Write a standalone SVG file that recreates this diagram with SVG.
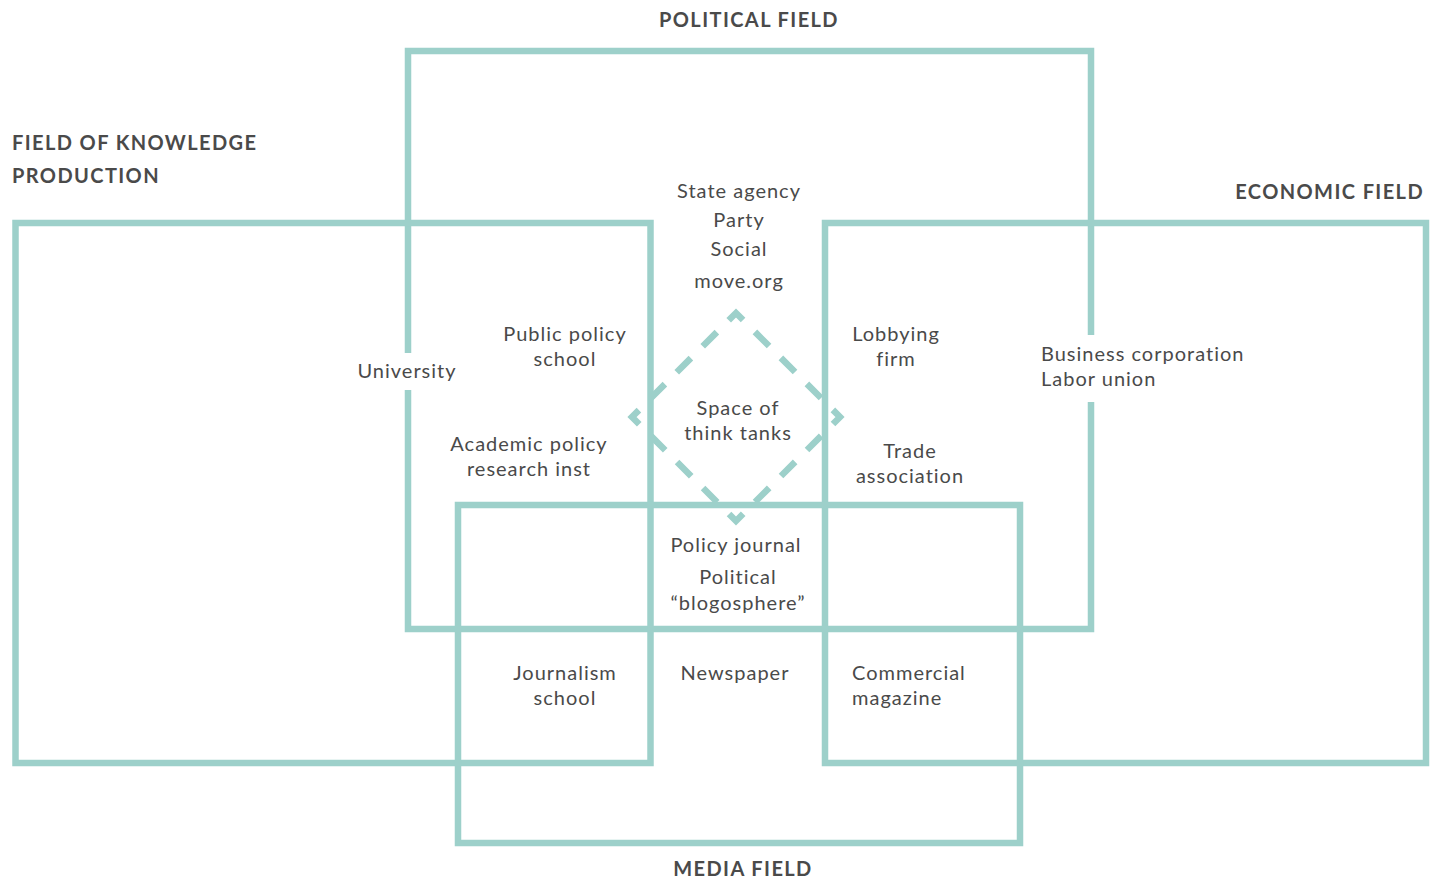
<svg xmlns="http://www.w3.org/2000/svg" width="1440" height="893" viewBox="0 0 1440 893">
<style>
.f{fill:none;stroke:#9dd0ca;stroke-width:6.5;stroke-linejoin:miter}
.d{fill:none;stroke:#9dd0ca;stroke-width:6.5;stroke-dasharray:20 16.75;stroke-dashoffset:10;stroke-linejoin:miter}
.t{font-family:Lato,"Noto Sans",sans-serif;font-size:20px;fill:#4a4a4a;text-anchor:middle;letter-spacing:1px}
.l{text-anchor:start}
.h{font-family:Lato,"Noto Sans",sans-serif;font-size:20px;font-weight:bold;fill:#4a4a4a;letter-spacing:1.4px}
</style>
<rect width="1440" height="893" fill="#ffffff"/>
<g id="space-of-think-tanks">
<path class="d" d="M736,313 L840,417 L736,521 L632,417 Z"/>
<text class="t" x="738" y="415">Space of</text>
<text class="t" x="738" y="440">think tanks</text>
</g>
<g id="fields">
<path id="political-field" class="f" d="M408,353 V51 H1091 V335 M1091,402 V629 H408 V390"/>
<rect id="knowledge-field" class="f" x="15.5" y="223" width="635" height="540"/>
<rect id="economic-field" class="f" x="825" y="223" width="601" height="540"/>
<rect id="media-field" class="f" x="458" y="505" width="562" height="338"/>
</g>
<g id="field-labels">
<text class="h" x="749" y="27" text-anchor="middle">POLITICAL FIELD</text>
<text class="h" x="12" y="150">FIELD OF KNOWLEDGE</text>
<text class="h" x="12" y="183">PRODUCTION</text>
<text class="h" x="1424" y="199" text-anchor="end">ECONOMIC FIELD</text>
<text class="h" x="743" y="876" text-anchor="middle">MEDIA FIELD</text>
</g>
<g id="node-state-agency">
<text class="t" x="739" y="198">State agency</text>
<text class="t" x="739" y="227">Party</text>
<text class="t" x="739" y="256">Social</text>
<text class="t" x="739" y="288">move.org</text>
</g>
<g id="node-public-policy-school">
<text class="t" x="565" y="341">Public policy</text>
<text class="t" x="565" y="366">school</text>
</g>
<g id="node-university">
<text class="t" x="407" y="378">University</text>
</g>
<g id="node-academic-policy">
<text class="t" x="529" y="451">Academic policy</text>
<text class="t" x="529" y="476">research inst</text>
</g>
<g id="node-lobbying-firm">
<text class="t" x="896" y="341">Lobbying</text>
<text class="t" x="896" y="366">firm</text>
</g>
<g id="node-business">
<text class="t l" x="1041" y="361">Business corporation</text>
<text class="t l" x="1041" y="386">Labor union</text>
</g>
<g id="node-trade-association">
<text class="t" x="910" y="458">Trade</text>
<text class="t" x="910" y="483">association</text>
</g>
<g id="node-policy-journal">
<text class="t" x="736" y="552">Policy journal</text>
<text class="t" x="738" y="584">Political</text>
<text class="t" x="738" y="610">“blogosphere”</text>
</g>
<g id="node-journalism-school">
<text class="t" x="565" y="680">Journalism</text>
<text class="t" x="565" y="705">school</text>
</g>
<g id="node-newspaper">
<text class="t" x="735" y="680">Newspaper</text>
</g>
<g id="node-commercial-magazine">
<text class="t l" x="852" y="680">Commercial</text>
<text class="t l" x="852" y="705">magazine</text>
</g>
<g id="connectors"></g>
</svg>
